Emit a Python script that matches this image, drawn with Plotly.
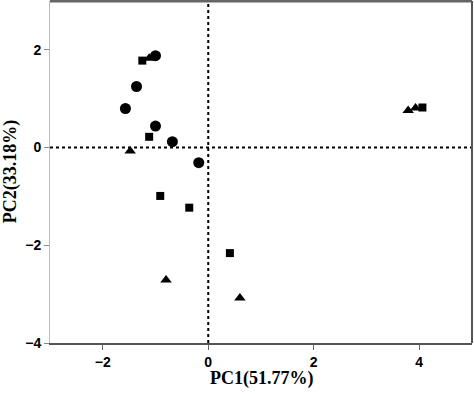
import plotly.graph_objects as go

circle_x = [-1.00, -1.36, -1.57, -1.00, -0.68, -0.18]
circle_y = [1.88, 1.25, 0.80, 0.44, 0.12, -0.31]
square_x = [-1.25, -1.12, -0.91, -0.36, 0.41, 4.06]
square_y = [1.78, 0.22, -0.99, -1.23, -2.16, 0.82]
tri_x = [-1.12, -1.48, -0.80, 0.60, 3.79, 3.93]
tri_y = [1.83, -0.07, -2.71, -3.08, 0.76, 0.81]

x_ticks = [-2, 0, 2, 4]
y_ticks = [-4, -2, 0, 2]

fig = go.Figure()
fig.add_trace(go.Scatter(x=square_x, y=square_y, mode="markers",
                         marker=dict(symbol="square", size=8, color="black")))
fig.add_trace(go.Scatter(x=tri_x, y=tri_y, mode="markers",
                         marker=dict(symbol="triangle-up", size=10, color="black")))
fig.add_trace(go.Scatter(x=circle_x, y=circle_y, mode="markers",
                         marker=dict(symbol="circle", size=11, color="black")))

# dotted reference lines
fig.add_shape(type="line", xref="x", yref="paper", x0=0, x1=0, y0=0, y1=1,
              line=dict(color="black", width=2, dash="dot"), layer="below")
fig.add_shape(type="line", xref="paper", yref="y", x0=0, x1=1, y0=0, y1=0,
              line=dict(color="black", width=2, dash="dot"), layer="below")
# top and right border
fig.add_shape(type="line", xref="paper", yref="paper", x0=0, x1=1, y0=1, y1=1,
              line=dict(color="#666", width=3))
fig.add_shape(type="line", xref="paper", yref="paper", x0=1, x1=1, y0=0, y1=1,
              line=dict(color="#555", width=2))

title_font = dict(family="Liberation Serif", size=18, color="black")
fig.add_annotation(text="<b>PC1(51.77%)</b>", xref="paper", yref="paper",
                   x=0.5, y=-0.105, xanchor="center", yanchor="middle",
                   showarrow=False, font=title_font)
fig.add_annotation(text="<b>PC2(33.18%)</b>", xref="paper", yref="paper",
                   x=-0.094, y=0.5, xanchor="center", yanchor="middle",
                   textangle=-90, showarrow=False, font=title_font)

tick_font = dict(family="Liberation Sans", size=14, color="black", weight="bold")
fig.update_layout(
    width=474, height=394,
    margin=dict(l=50, r=2, t=1, b=51, autoexpand=False),
    plot_bgcolor="white", paper_bgcolor="white",
    showlegend=False,
    xaxis=dict(range=[-3, 5], tickvals=x_ticks, ticks="outside", ticklen=5,
               tickcolor="#666", showgrid=False, zeroline=False, automargin=False,
               showline=True, linecolor="#555", linewidth=2, tickfont=tick_font),
    yaxis=dict(range=[-4, 3], tickvals=y_ticks, ticks="outside", ticklen=5,
               tickcolor="#888", showgrid=False, zeroline=False, automargin=False,
               showline=True, linecolor="#bbb", linewidth=1, tickfont=tick_font),
)

fig.write_html("out.html", config={"displayModeBar": False},
               post_script="document.body.style.margin='0';")
